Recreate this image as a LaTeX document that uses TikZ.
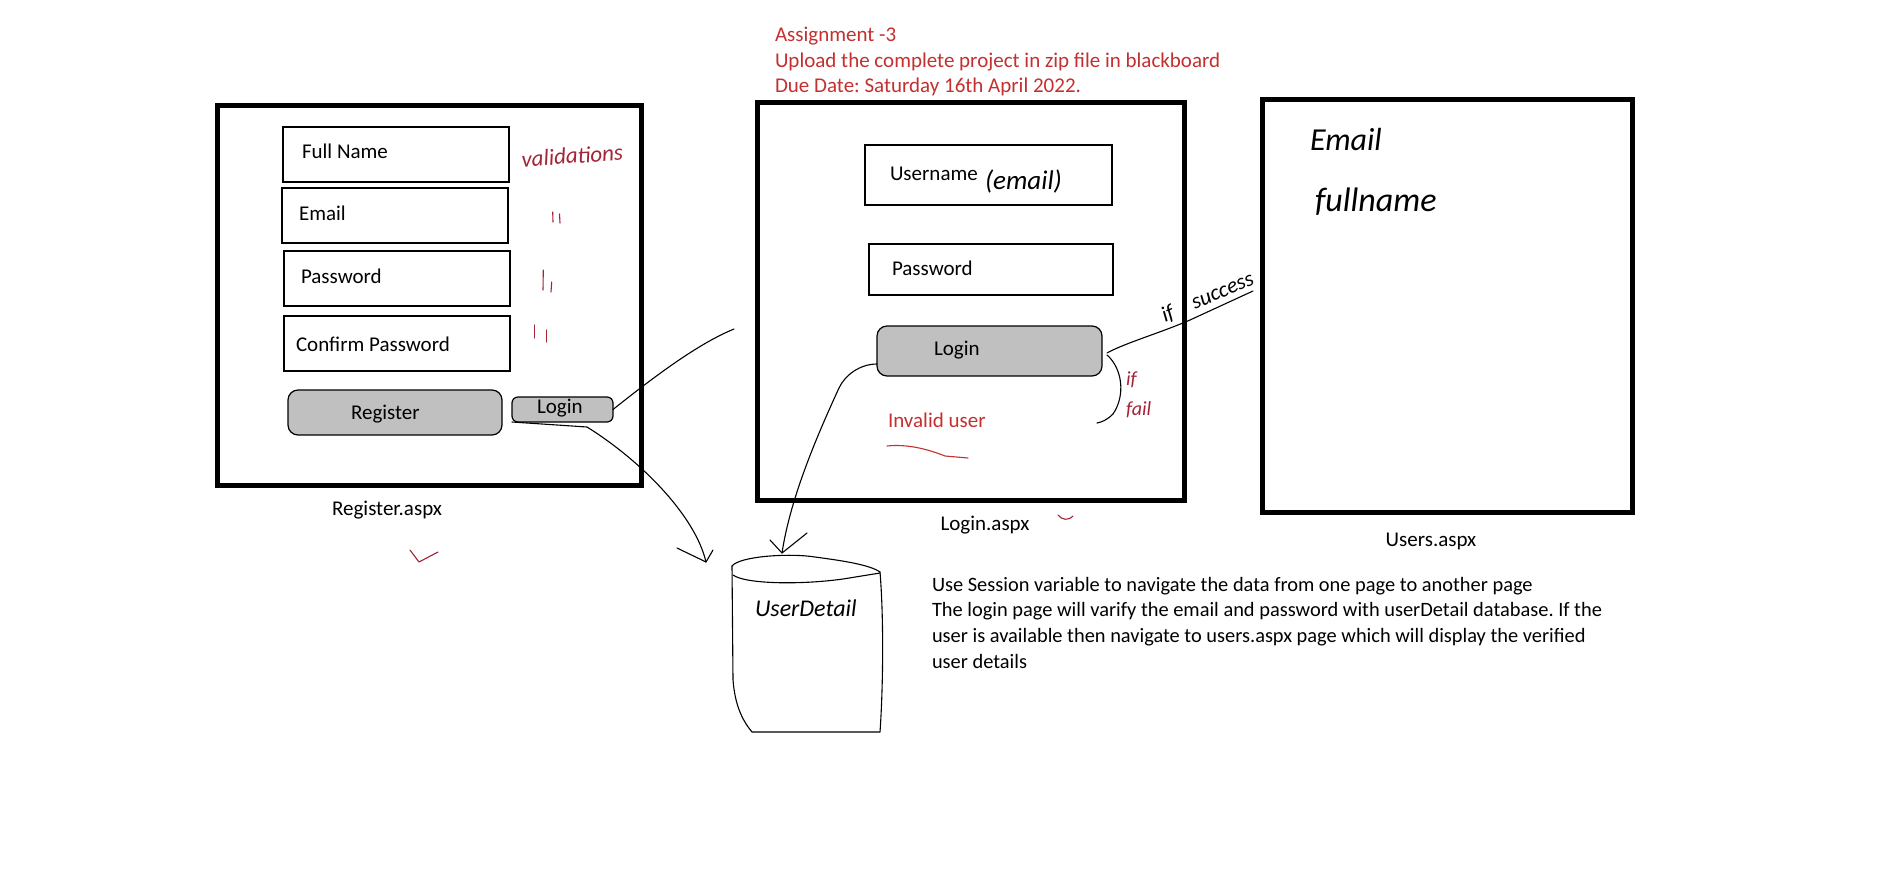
\documentclass[tikz,border=0pt]{standalone}
\usepackage{fontspec}
\setmainfont{Carlito}
\definecolor{titlered}{RGB}{196,48,48}
\definecolor{inkred}{RGB}{165,35,55}
\definecolor{btngray}{RGB}{192,192,192}
\begin{document}
\frenchspacing
\begin{tikzpicture}[x=1pt,y=-1pt,
  frame/.style={draw, line width=5pt, inner sep=0pt, outer sep=0pt},
  field/.style={draw, line width=1.2pt, inner sep=0pt, outer sep=0pt},
  btn/.style={draw, fill=btngray, line width=1.2pt, rounded corners=10pt, inner sep=0pt, outer sep=0pt},
  txt/.style={inner sep=0pt, outer sep=0pt, font=\fontsize{21}{25.7}\selectfont},
  hand/.style={inner sep=0pt, outer sep=0pt},
  ink/.style={line width=1.1pt, line cap=round, line join=round},
]
\useasboundingbox[fill=white] (0,0) rectangle (1895,868);

% ---------- title ----------
\node[txt, text=titlered, anchor=north west, align=left] (title) at (775,27)
  {Assignment -3\\Upload the complete project in zip file in blackboard\\Due Date: Saturday 16th April 2022.};

% ---------- Register page ----------
\node[frame, minimum width=424pt, minimum height=380pt] (regframe) at (429.5,295.3) {};
\node[field, minimum width=226pt, minimum height=55pt] (fFull) at (396,154.5) {};
\node[field, minimum width=226pt, minimum height=55pt] (fEmail) at (395,215.5) {};
\node[field, minimum width=226pt, minimum height=55pt] (fPass) at (397,278.5) {};
\node[field, minimum width=226pt, minimum height=55pt] (fConf) at (397,343.5) {};
\node[btn, minimum width=214pt, minimum height=45pt] (regBtn) at (395,412.5) {};
\node[btn, rounded corners=6pt, minimum width=101pt, minimum height=25pt] (regLogin) at (562.5,409.5) {};
\node[txt, anchor=base west] (tFull) at (302,158) {Full Name};
\node[txt, anchor=base west] (tEmail) at (299,220) {Email};
\node[txt, anchor=base west] (tPass) at (301,283) {Password};
\node[txt, anchor=base west] (tConf) at (296,351) {Confirm Password};
\node[txt, anchor=base west] (tReg) at (351,419) {Register};
\node[txt, anchor=base west] (tRegLogin) at (537,413) {Login};
\node[txt, anchor=base] (regLabel) at (387,515) {Register.aspx};
\node[hand, text=inkred, anchor=base west, rotate=4, font=\itshape\fontsize{23}{27}\selectfont] (valid) at (522,167) {validations};
% ditto marks
\draw[ink, inkred] (552.7,212) -- (553,222) (559.5,214) -- (560,223);
\draw[ink, inkred] (543.3,270) -- (543,290) (551.7,282) -- (551,292);
\draw[ink, inkred] (534.3,325) -- (534.3,338) (546.7,330) -- (546.7,342);
% red check
\draw[ink, inkred] (410,550) -- (419,562) -- (438,552);

% ---------- Login page ----------
\node[frame, minimum width=427pt, minimum height=398pt] (logframe) at (970.5,301) {};
\node[field, minimum width=247pt, minimum height=60pt] (fUser) at (988.5,175) {};
\node[field, minimum width=244pt, minimum height=51pt] (fLPass) at (991,269.5) {};
\node[btn, minimum width=225pt, minimum height=50pt] (loginBtn) at (989.5,351) {};
\node[txt, anchor=base west] (tUser) at (890,180) {Username};
\node[hand, anchor=base west, font=\itshape\fontsize{27}{30}\selectfont] (tEmailH) at (985,189) {(email)};
\node[txt, anchor=base west] (tLPass) at (892,275) {Password};
\node[txt, anchor=base west] (tLogin) at (934,355) {Login};
\node[txt, text=titlered, anchor=base west] (invalid) at (888,427) {Invalid user};
\draw[ink, titlered] (887,446) .. controls (905,444) and (925,448) .. (945,456) -- (968,458);
\node[txt, anchor=base] (logLabel) at (985,530) {Login.aspx};
\draw[ink, inkred] (1058,515) .. controls (1062,520) and (1068,521) .. (1073,516);

% ---------- Users page ----------
\node[frame, minimum width=370pt, minimum height=413pt] (usersframe) at (1447.5,306) {};
\node[hand, anchor=base west, font=\itshape\fontsize{32}{36}\selectfont] (uEmail) at (1310,150) {Email};
\node[hand, anchor=base west, font=\itshape\fontsize{34}{38}\selectfont] (uFull) at (1315,211) {fullname};
\node[txt, anchor=base] (usersLabel) at (1431,546) {Users.aspx};

% ---------- database ----------
\draw[ink] (732,566) .. controls (740,556) and (790,553) .. (815,557)
           .. controls (845,561) and (870,565) .. (880,572);
\draw[ink] (733,575) .. controls (745,584) and (800,585) .. (843,579) -- (880,573);
\draw[ink] (732,566) -- (733,680) .. controls (735,705) and (742,720) .. (752,732)
           -- (880,732) .. controls (883,690) and (884,620) .. (880,572);
\node[hand, anchor=base west, font=\itshape\fontsize{24}{28}\selectfont] (db) at (755,616) {UserDetail};

% ---------- description ----------
\node[inner sep=0pt, outer sep=0pt, font=\fontsize{20.4}{25.7}\selectfont, anchor=north west, align=left] (desc) at (932,577)
  {Use Session variable to navigate the data from one page to another page\\
   The login page will varify the email and password with userDetail database. If the\\
   user is available then navigate to users.aspx page which will display the verified\\
   user details};

% ---------- connectors ----------
\coordinate (regLoginEnd) at (734,329);
\coordinate (dbTip1) at (706,562);
\coordinate (dbTip2) at (782,553);
\coordinate (succEnd) at (1253,291);
\coordinate (failEnd) at (1097,423);

\draw[ink] (regLogin.east) .. controls (660,372) and (700,343) .. (regLoginEnd);
\draw[ink] (regLogin.south west) -- ++(75,5) .. controls (640,460) and (695,515) .. (dbTip1);
\draw[ink] (dbTip1) -- ++(-29,-14) (dbTip1) -- ++(7,-12);
\draw[ink] ([yshift=-13pt]loginBtn.west) .. controls (860,364) and (845,375) .. (839,388)
           .. controls (815,440) and (790,500) .. (dbTip2);
\draw[ink] (dbTip2) -- ++(-12,-13) (dbTip2) -- ++(25,-20);
\draw[ink] ([xshift=5pt,yshift=-2pt]loginBtn.east) .. controls (1125,343) and (1160,333) .. (1190,320) -- (succEnd);
\draw[ink] ([xshift=5pt,yshift=-4pt]loginBtn.east) .. controls (1122,368) and (1126,395) .. (1113,414)
           .. controls (1107,420) and (1102,422) .. (failEnd);
\node[hand, rotate=23, font=\itshape\fontsize{22}{26}\selectfont] (succIf) at (1168,314) {if};
\node[hand, rotate=23, font=\itshape\fontsize{22}{26}\selectfont] (succ) at (1223,292) {success};
\node[hand, text=inkred, anchor=north west, align=left, font=\itshape\fontsize{20}{30}\selectfont] (fail) at (1126,372) {if\\fail};
\end{tikzpicture}
\end{document}
